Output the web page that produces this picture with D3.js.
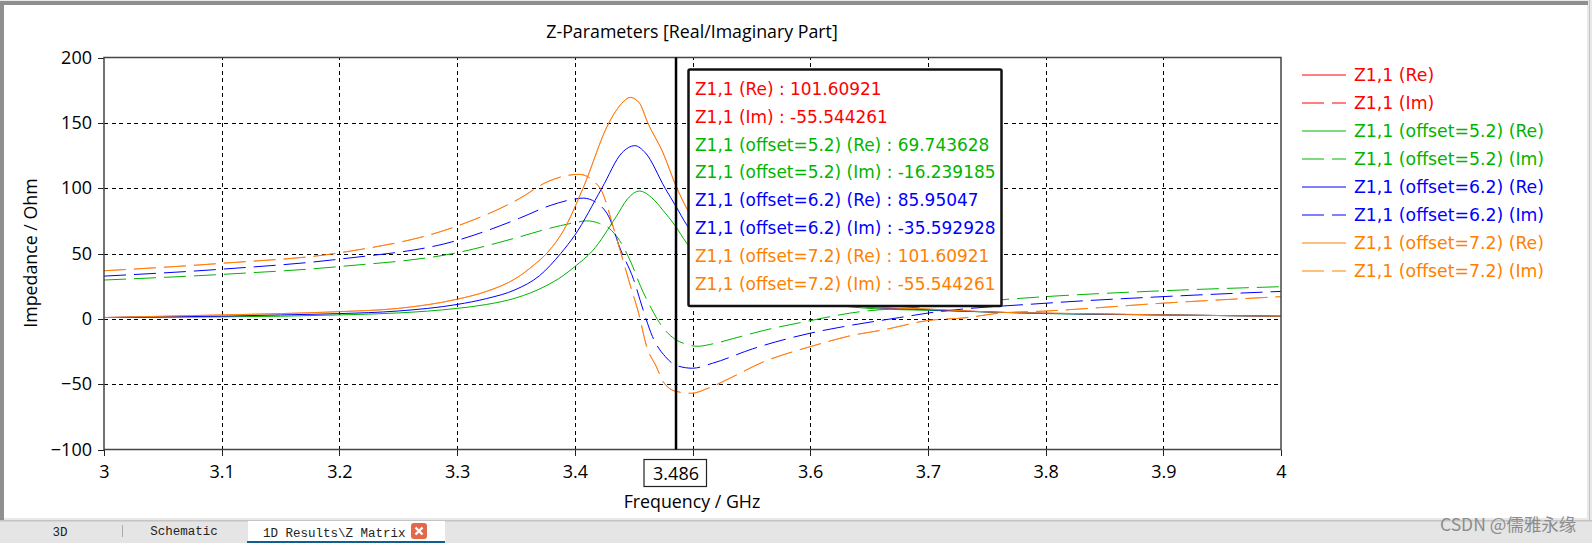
<!DOCTYPE html>
<html>
<head>
<meta charset="utf-8">
<script src="https://cdn.jsdelivr.net/npm/d3@7"></script>
<style>
  html, body { margin: 0; padding: 0; background: #fff; }
  svg { display: block; }
  text { font-family: "Open Sans", "Noto Sans", sans-serif; }
</style>
</head>
<body>
<svg id="chart" width="1592" height="543"></svg>
<script>
// values
var xTicks = [3, 3.1, 3.2, 3.3, 3.4, 3.5, 3.6, 3.7, 3.8, 3.9, 4];
var yTicks = [-100, -50, 0, 50, 100, 150, 200];
var cursorFreq = 3.486;

// Re curves
var freqRe72 = [3, 3.05, 3.1, 3.15, 3.2, 3.25, 3.3, 3.325, 3.35, 3.365, 3.376, 3.39, 3.407, 3.429, 3.44, 3.447, 3.455, 3.462, 3.475, 3.486, 3.496, 3.51, 3.53, 3.56, 3.6, 3.65, 3.7, 3.76, 3.8, 3.9, 4];
var re72 = [1, 2, 3, 4, 5.5, 8, 15, 21, 31, 41, 50, 67, 100, 150, 165, 169.5, 165, 150, 127, 101.6, 83, 64, 47, 32, 20, 9, 7.5, 5, 4.4, 3, 2];
var freqRe62 = [3, 3.05, 3.1, 3.15, 3.2, 3.25, 3.3, 3.325, 3.35, 3.37, 3.388, 3.4, 3.423, 3.44, 3.451, 3.46, 3.4767, 3.486, 3.495, 3.51, 3.53, 3.56, 3.6, 3.65, 3.7, 3.76, 3.8, 3.9, 4];
var re62 = [1, 1.5, 2, 3, 4, 6, 11, 15.5, 22.5, 33, 50, 64, 100, 127, 132.5, 127, 100, 85.95, 72, 55, 38, 25, 16, 9, 7, 5, 4.2, 3, 2];
var freqRe52 = [3, 3.05, 3.1, 3.15, 3.2, 3.25, 3.3, 3.325, 3.35, 3.375, 3.39, 3.4, 3.415, 3.435, 3.445, 3.455, 3.465, 3.475, 3.485, 3.495, 3.51, 3.53, 3.56, 3.6, 3.65, 3.7, 3.76, 3.8, 3.9, 4];
var re52 = [1, 1.2, 1.5, 2, 3, 4.5, 8, 11, 16, 25, 33, 40, 52, 78, 92, 97.8, 93, 83, 71.6, 58, 43, 30, 20, 13, 8, 6.5, 5, 4, 3, 2];

// Im curves
var freqIm72 = [3, 3.1, 3.2, 3.3, 3.353, 3.377, 3.4035, 3.421, 3.435, 3.447, 3.4543, 3.461, 3.4695, 3.475, 3.486, 3.499, 3.5135, 3.535, 3.56, 3.586, 3.6, 3.637, 3.662, 3.699, 3.733, 3.761, 3.801, 3.9, 4];
var im72 = [36.8, 42.5, 50.5, 71, 92, 105, 110.6, 100.6, 63, 26, 4, -21, -37, -48, -55.5, -57, -53, -44, -33, -25, -21.3, -12.4, -8.5, -1.4, 0.9, 4.4, 6, 12, 17];
var freqIm62 = [3, 3.1, 3.2, 3.3, 3.327, 3.353, 3.379, 3.4, 3.407, 3.423, 3.429, 3.438, 3.45, 3.458, 3.466, 3.477, 3.486, 3.5, 3.517, 3.551, 3.6, 3.628, 3.676, 3.7, 3.801, 3.9, 4];
var im62 = [32.7, 38, 45.7, 60, 68, 77, 86.7, 91.7, 92.4, 85.5, 78, 55, 30, 7, -13.6, -29, -35.6, -37.8, -34, -23, -11, -6, 1, 4.4, 12, 17, 21];
var freqIm52 = [3, 3.1, 3.2, 3.3, 3.353, 3.379, 3.4, 3.41, 3.421, 3.429, 3.438, 3.448, 3.456, 3.465, 3.472, 3.485, 3.492, 3.504, 3.518, 3.535, 3.56, 3.6, 3.634, 3.7, 3.768, 3.8, 3.9, 4];
var im52 = [29.7, 34, 40, 50.6, 62.7, 69.4, 73.6, 75, 73, 69.4, 60, 42.6, 24.6, 8, -3, -15.5, -18.6, -21, -19, -15, -9, -1.4, 4.4, 9.5, 15, 17, 21.5, 24.6];

var legendNames = ["Z1,1 (Re)", "Z1,1 (Im)", "Z1,1 (offset=5.2) (Re)", "Z1,1 (offset=5.2) (Im)",
                   "Z1,1 (offset=6.2) (Re)", "Z1,1 (offset=6.2) (Im)", "Z1,1 (offset=7.2) (Re)", "Z1,1 (offset=7.2) (Im)"];
var cursorValues = ["101.60921", "-55.544261", "69.743628", "-16.239185", "85.95047", "-35.592928", "101.60921", "-55.544261"];
var tabNames = ["3D", "Schematic", "1D Results\\Z Matrix"];

var red = "#ff0000", green = "#00b400", blue = "#0000ff", orange = "#ff8000";
var colors = [red, red, green, green, blue, blue, orange, orange];
var labelFont = "'DejaVu Sans', sans-serif";

var svg = d3.select("#chart");

var plotLeft = 104, plotRight = 1281, plotTop = 57.5, plotBottom = 449.5;
var x = d3.scaleLinear().domain([3, 4]).range([plotLeft, plotRight]);
var y = d3.scaleLinear().domain([-100, 200]).range([plotBottom, plotTop]);

/* window frame and tab bar */
svg.append("rect").attr("width", 1592).attr("height", 543).attr("fill", "#e5e5e5");
svg.append("rect").attr("x", 0).attr("y", 0).attr("width", 1592).attr("height", 521).attr("fill", "#e8e8e8");
svg.append("rect").attr("x", 0).attr("y", 1).attr("width", 1588).attr("height", 4).attr("fill", "#8f8f8f");
svg.append("rect").attr("x", 0).attr("y", 1).attr("width", 4).attr("height", 519).attr("fill", "#8f8f8f");
svg.append("rect").attr("x", 4).attr("y", 5).attr("width", 1583).attr("height", 513).attr("fill", "#fff");
svg.append("rect").attr("x", 0).attr("y", 520).attr("width", 1592).attr("height", 1.5).attr("fill", "#c4c4c4");
svg.append("rect").attr("x", 1589).attr("y", 0).attr("width", 1).attr("height", 520).attr("fill", "#c4c4c4");
svg.append("rect").attr("x", 248).attr("y", 521).attr("width", 197).attr("height", 22).attr("fill", "#fff");
svg.append("rect").attr("x", 247).attr("y", 541).attr("width", 198).attr("height", 2).attr("fill", "#0f6090");
svg.append("line").attr("x1", 122.5).attr("x2", 122.5).attr("y1", 525).attr("y2", 537).attr("stroke", "#aaa");

var tabs = svg.append("g").attr("fill", "#222");
tabs.append("text").attr("x", 60).attr("y", 536).attr("text-anchor", "middle").style("font-family", "'Liberation Mono', monospace").style("font-size", "12.5px").text(tabNames[0]);
tabs.append("text").attr("x", 184).attr("y", 535).attr("text-anchor", "middle").style("font-family", "'Liberation Mono', monospace").style("font-size", "12.5px").text(tabNames[1]);
tabs.append("text").attr("x", 263).attr("y", 537).style("font-family", "'Liberation Mono', monospace").style("font-size", "12.5px").text(tabNames[2]);
svg.append("rect").attr("x", 411).attr("y", 523).attr("width", 16).attr("height", 16).attr("rx", 3).attr("fill", "#e2694a");
svg.append("path").attr("d", "M415.5,527.5L422.5,534.5M422.5,527.5L415.5,534.5").attr("stroke", "#fff").attr("stroke-width", 2.4);

/* grid */
svg.append("g").attr("class", "grid")
   .attr("transform", "translate(" + plotLeft + ",0)")
   .call(d3.axisLeft(y).tickValues(yTicks.slice(1, -1)).tickSize(-(plotRight - plotLeft)).tickFormat(""));
svg.append("g").attr("class", "grid")
   .attr("transform", "translate(0," + plotBottom + ")")
   .call(d3.axisBottom(x).tickValues(xTicks.slice(1, -1)).tickSize(-(plotBottom - plotTop)).tickFormat(""));
svg.selectAll(".grid .domain").remove();
svg.selectAll(".grid line").attr("stroke", "#000").attr("stroke-dasharray", "4,3.5").attr("shape-rendering", "crispEdges");

/* curves, Z1,1 sits underneath the offset=7.2 ones so only a hair of red is left */
var curves = [
  [freqRe72, re72, red, false, 0.4], [freqIm72, im72, red, true, 0.4],
  [freqRe52, re52, green, false, 1], [freqIm52, im52, green, true, 1],
  [freqRe62, re62, blue, false, 1], [freqIm62, im62, blue, true, 1],
  [freqRe72, re72, orange, false, 1], [freqIm72, im72, orange, true, 1]
];
var lineGen = d3.line()
    .x(function(d) { return x(d[0]); })
    .y(function(d) { return y(d[1]); })
    .curve(d3.curveMonotoneX);

curves.forEach(function(c) {
  svg.append("path")
     .datum(d3.zip(c[0], c[1]))
     .attr("d", lineGen)
     .attr("fill", "none")
     .attr("stroke", c[2])
     .attr("stroke-width", c[4])
     .attr("stroke-dasharray", c[3] ? "22,8" : null);
});

/* axes, the 3.5 label is covered by the cursor box */
var gy = svg.append("g").attr("transform", "translate(" + plotLeft + ",0)")
   .call(d3.axisLeft(y).tickValues(yTicks).tickSize(6).tickPadding(6).tickFormat(d3.format("d")));
var gx = svg.append("g").attr("transform", "translate(0," + plotBottom + ")")
   .call(d3.axisBottom(x).tickValues(xTicks).tickSize(6).tickPadding(10).tickFormat(function(d) { return d === 3.5 ? "" : d; }));
gy.select(".domain").remove();
gx.select(".domain").remove();
[gy, gx].forEach(function(g) {
  g.selectAll("text").style("font-size", "18px").style("font-family", "'Open Sans', sans-serif").attr("fill", "#000");
  g.selectAll("line").attr("stroke", "#222").attr("shape-rendering", "crispEdges");
});
svg.append("rect").attr("x", plotLeft).attr("y", plotTop).attr("width", plotRight - plotLeft).attr("height", plotBottom - plotTop)
   .attr("fill", "none").attr("stroke", "#444").attr("stroke-width", 1.5);

/* cursor */
svg.append("line").attr("x1", x(cursorFreq)).attr("x2", x(cursorFreq)).attr("y1", plotTop).attr("y2", plotBottom)
   .attr("stroke", "#000").attr("stroke-width", 2.5);
svg.append("rect").attr("x", 644).attr("y", 459.5).attr("width", 62.5).attr("height", 27)
   .attr("fill", "#fff").attr("stroke", "#222").attr("stroke-width", 1.2);
svg.append("text").attr("x", x(cursorFreq)).attr("y", 479.5).attr("text-anchor", "middle")
   .style("font-size", "18px").text(cursorFreq);

/* tooltip */
svg.append("rect").attr("x", 688.5).attr("y", 69.5).attr("width", 313).attr("height", 236.5).attr("rx", 1.5)
   .attr("fill", "#fff").attr("stroke", "#111").attr("stroke-width", 2.5);
svg.selectAll(".tip").data(legendNames).enter().append("text")
   .attr("class", "tip")
   .attr("x", 695)
   .attr("y", function(d, i) { return 94.7 + i * 27.9; })
   .attr("fill", function(d, i) { return colors[i]; })
   .style("font-family", labelFont)
   .style("font-size", "16.95px")
   .text(function(d, i) { return d + " : " + cursorValues[i]; });

/* legend */
var legendY = d3.scalePoint().domain(legendNames).range([75, 271]);
var legend = svg.selectAll(".legend").data(legendNames).enter().append("g").attr("class", "legend")
   .attr("transform", function(d) { return "translate(1302," + legendY(d) + ")"; });
legend.append("line").attr("x1", 0).attr("x2", 44).attr("y1", 0).attr("y2", 0)
   .attr("stroke", function(d, i) { return colors[i]; })
   .attr("stroke-dasharray", function(d, i) { return i % 2 ? "22,8" : null; });
legend.append("text").attr("x", 52).attr("y", 6)
   .attr("fill", function(d, i) { return colors[i]; })
   .style("font-family", labelFont)
   .style("font-size", "17.3px")
   .text(function(d) { return d; });

/* titles */
svg.append("text").attr("x", 692).attr("y", 38).attr("text-anchor", "middle").style("font-size", "17.8px")
   .text("Z-Parameters [Real/Imaginary Part]");
svg.append("text").attr("x", 692).attr("y", 508).attr("text-anchor", "middle").style("font-size", "17.8px")
   .text("Frequency / GHz");
svg.append("text").attr("transform", "translate(37,253) rotate(-90)").attr("text-anchor", "middle").style("font-size", "17.8px")
   .text("Impedance / Ohm");

/* watermark */
svg.append("text").attr("x", 1440).attr("y", 531).attr("fill", "#8c8c8c")
   .style("font-family", "'Noto Sans CJK SC', sans-serif").style("font-size", "17.5px")
   .text("CSDN @儒雅永缘");
</script>
</body>
</html>
